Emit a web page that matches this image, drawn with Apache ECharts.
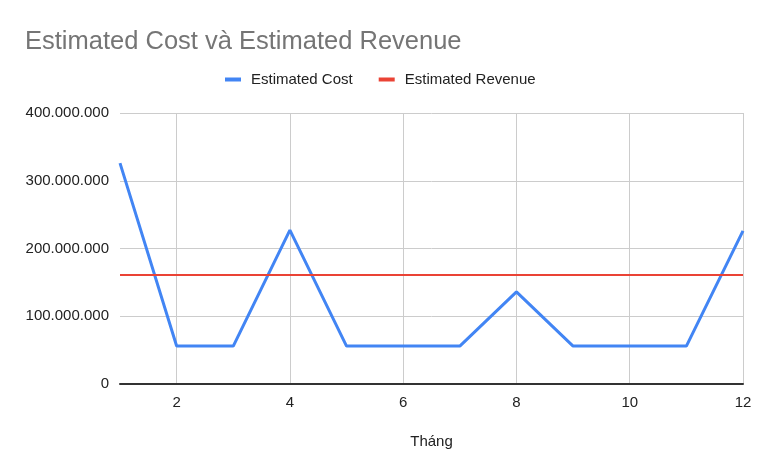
<!DOCTYPE html>
<html>
<head>
<meta charset="utf-8">
<script src="https://cdn.jsdelivr.net/npm/echarts@6/dist/echarts.min.js"></script>
<style>
  html, body { margin: 0; padding: 0; background: #fff; }
  #chart { width: 768px; height: 475px; }
</style>
</head>
<body>
<div id="chart"></div>
<script>
// du lieu
const months = [1, 2, 3, 4, 5, 6, 7, 8, 9, 10, 11, 12];
const estimatedCost = [326000000, 56000000, 56000000, 227000000, 56000000, 56000000, 56000000, 136000000, 56000000, 56000000, 56000000, 226000000];
const estimatedRevenue = [161000000, 161000000, 161000000, 161000000, 161000000, 161000000, 161000000, 161000000, 161000000, 161000000, 161000000, 161000000];

const FONT = "'Liberation Sans', Arial, sans-serif";
const chart = echarts.init(document.getElementById("chart"), null, { renderer: "canvas" });

// 400000000 -> 400.000.000
function fmt(v) {
  return String(v).replace(/\B(?=(\d{3})+(?!\d))/g, ".");
}

const option = {
  animation: false,
  title: {
    text: "Estimated Cost và Estimated Revenue",
    left: 20,
    top: 24,
    textStyle: { fontFamily: FONT, fontSize: 25.5, fontWeight: "normal", color: "#757575" },
  },
  legend: {
    top: 67,
    left: 220,
    itemGap: 26,
    itemWidth: 16,
    itemHeight: 4,
    icon: "rect",
    textStyle: { fontFamily: FONT, fontSize: 15, color: "#222", padding: [0, 0, 0, 5] },
    data: ["Estimated Cost", "Estimated Revenue"],
  },
  grid: {
    left: 120,
    right: 25,
    top: 113,
    bottom: 91,
  },
  xAxis: {
    type: "category",
    boundaryGap: false,
    data: months,
    name: "Tháng",
    nameLocation: "middle",
    nameGap: 50,
    nameTextStyle: { fontFamily: FONT, fontSize: 15, color: "#222" },
    axisLine: { lineStyle: { color: "#333", width: 2 } },
    axisTick: { show: false },
    axisLabel: {
      interval: (i) => i % 2 === 1,
      margin: 11,
      fontFamily: FONT,
      fontSize: 15,
      color: "#222",
    },
    splitLine: {
      show: true,
      interval: (i) => i % 2 === 1,
      lineStyle: { color: "#cccccc", width: 1 },
    },
  },
  yAxis: {
    type: "value",
    min: 0,
    max: 400000000,
    interval: 100000000,
    axisLine: { show: false },
    axisTick: { show: false },
    axisLabel: {
      formatter: fmt,
      margin: 11,
      fontFamily: FONT,
      fontSize: 15,
      color: "#222",
    },
    splitLine: { lineStyle: { color: "#cccccc", width: 1 } },
  },
  series: [
    {
      name: "Estimated Cost",
      type: "line",
      data: estimatedCost,
      showSymbol: false,
      symbol: "none",
      itemStyle: { color: "#4285f4" },
      lineStyle: { color: "#4285f4", width: 3 },
    },
    {
      name: "Estimated Revenue",
      type: "line",
      data: estimatedRevenue,
      showSymbol: false,
      symbol: "none",
      itemStyle: { color: "#ea4335" },
      lineStyle: { color: "#ea4335", width: 2 },
    },
  ],
};

chart.setOption(option);
</script>
</body>
</html>
